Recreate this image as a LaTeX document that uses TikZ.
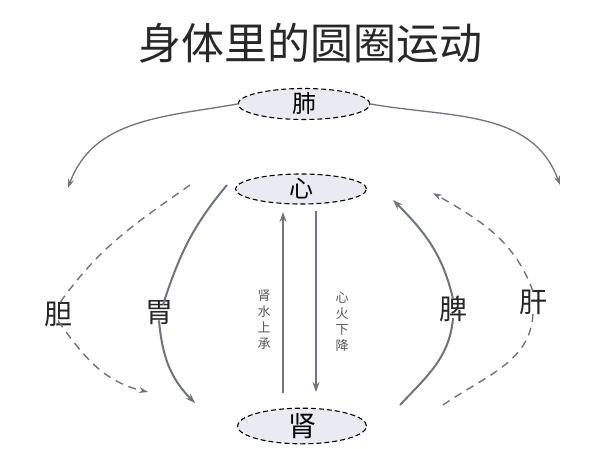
\documentclass[tikz,border=0pt]{standalone}
\usepackage{fontspec}
\setmainfont{Noto Sans CJK SC}
\usetikzlibrary{shapes.geometric,arrows.meta}
\definecolor{linegray}{RGB}{112,116,124}
\definecolor{ellfill}{RGB}{234,234,242}
\definecolor{titlegray}{RGB}{40,40,40}
\tikzset{
  organ/.style={ellipse,draw=black,dashed,dash pattern=on 5pt off 3pt,line width=1.1pt,fill=ellfill,inner sep=0pt,text=black},
  lab/.style={inner sep=0pt,font=\fontsize{28}{28}\selectfont,text=black!85},
  vlab/.style={inner sep=0pt,align=center,font=\fontsize{13}{16}\selectfont,text=black!65},
  thinarc/.style={draw=linegray,line width=1.3pt,-{Stealth[length=9pt,width=6pt]}},
  solidarr/.style={draw=linegray,line width=2pt,-{Stealth[length=10pt,width=7pt]}},
  solidline/.style={draw=linegray,line width=2pt},
  dasharr/.style={draw=linegray,line width=1.4pt,dash pattern=on 8pt off 6pt,-{Stealth[length=9pt,width=6pt]}},
  dashline/.style={draw=linegray,line width=1.4pt,dash pattern=on 8pt off 6pt},
}
\begin{document}
\begin{tikzpicture}[x=1pt,y=-1pt]
\useasboundingbox[fill=white] (0,0) rectangle (597,448);
% title
\node[inner sep=0pt,text=titlegray,font=\fontsize{43}{43}\selectfont] (title) at (310,43) {身体里的圆圈运动};
% organs
\node[organ,minimum width=132pt,minimum height=31pt,font=\fontsize{24}{24}\selectfont] (fei) at (304,104) {肺};
\node[organ,minimum width=131pt,minimum height=30pt,font=\fontsize{24}{24}\selectfont] (xin) at (301,189) {心};
\node[organ,minimum width=129pt,minimum height=33pt,font=\fontsize{28}{28}\selectfont] (shen) at (302,426) {肾};
% side labels
\node[lab] (dan) at (58,314) {胆};
\node[lab] (wei) at (159,313) {胃};
\node[lab] (pi) at (453,309) {脾};
\node[lab] (gan) at (533,302) {肝};
% vertical labels
\node[vlab] (shui) at (264,320) {肾\\水\\上\\承};
\node[vlab] (huo) at (342,322) {心\\火\\下\\降};
% free end points
\coordinate (feiL) at (68,188);
\coordinate (feiR) at (560,185);
\coordinate (danS) at (190,185);
\coordinate (danE) at (148,392);
\coordinate (weiS) at (227,185);
\coordinate (weiE) at (195,403);
\coordinate (piS) at (400,405);
\coordinate (piE) at (393,200);
\coordinate (ganS) at (443,405);
\coordinate (ganE) at (433,193);
\coordinate (upS) at (283,393);
\coordinate (upE) at (283,212);
\coordinate (dnS) at (316,211);
\coordinate (dnE) at (316,392);
% lung arcs
\draw[thinarc] (fei.west) to[out=190,in=70] (feiL);
\draw[thinarc] (fei.east) to[out=-10,in=110] (feiR);
% gallbladder (dashed)
\draw[dashline] (danS) to[out=215,in=55] ([yshift=-4pt]dan.north);
\draw[dasharr] ([yshift=6pt]dan.south) to[out=-55,in=167] (danE);
% stomach
\draw[solidline] (weiS) to[out=230,in=72] ([xshift=4pt,yshift=-4pt]wei.north);
\draw[solidarr] ([yshift=5pt]wei.south) to[out=-85,in=135] (weiE);
% spleen
\draw[solidline] (piS) to[out=47,in=-95] ([yshift=4pt]pi.south);
\draw[solidarr] ([yshift=-3pt]pi.north) to[out=103,in=-45] (piE);
% liver (dashed)
\draw[dashline] (ganS) to[out=35,in=-90] ([yshift=4pt]gan.south);
\draw[dasharr] ([yshift=-2pt]gan.north) to[out=110,in=-30] (ganE);
% kidney water / heart fire
\draw[solidarr] (upS) -- (upE);
\draw[solidarr] (dnS) -- (dnE);
\end{tikzpicture}
\end{document}
